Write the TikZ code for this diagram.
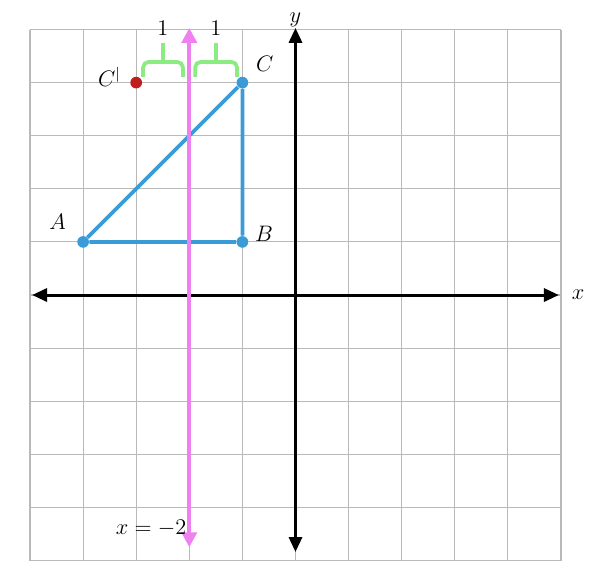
\documentclass[tikz,border=0pt]{standalone}
\usepackage{tikz}
\usetikzlibrary{positioning}
\usetikzlibrary{arrows.meta}
\definecolor{triblue}{RGB}{58,155,215}
\definecolor{mirrorpink}{RGB}{238,128,240}
\definecolor{bracegreen}{RGB}{140,235,130}
\definecolor{imagered}{RGB}{190,30,30}
\tikzstyle{gridline} = [draw=gray!55, line width=0.6pt]
\tikzstyle{axis} = [draw=black, line width=1.6pt, {Triangle[length=8pt,width=7pt]}-{Triangle[length=8pt,width=7pt]}]
\tikzstyle{mirror} = [draw=mirrorpink, line width=2pt, {Triangle[length=8pt,width=8pt]}-{Triangle[length=8pt,width=8pt]}]
\tikzstyle{side} = [draw=triblue, line width=2pt]
\tikzstyle{dot} = [circle, fill=triblue, inner sep=0pt, minimum size=0.22cm]
\tikzstyle{bracket} = [draw=bracegreen, line width=2pt, rounded corners=3pt]

\begin{document}
\begin{tikzpicture}[every node/.style={font=\large}]
  \useasboundingbox (-5.565,-5.33) rectangle (5.81,5.556);
  \draw[gridline] (-5,-5) grid (5,5);

  \coordinate (xl) at (-4.96,0);
  \coordinate (xr) at (4.96,0);
  \coordinate (yb) at (0,-4.84);
  \coordinate (yt) at (0,5.03);
  \coordinate (mb) at (-2,-4.75);
  \coordinate (mt) at (-2,5.03);

  \draw[axis] (xl) -- (xr);
  \draw[axis] (yb) -- (yt);
  \node[right=0.12cm of xr] (xlab) {$x$};
  \node[above=-0.1cm of yt] (ylab) {$y$};

  \node[dot] (A) at (-4,1) {};
  \node[dot] (B) at (-1,1) {};
  \node[dot] (C) at (-1,4) {};
  \node[dot, fill=imagered] (Cp) at (-3,4) {};
  \draw[side] (A) -- (B) -- (C) -- (A);

  \draw[mirror] (mb) -- (mt);
  \node (eq) at (-2.72,-4.39) {$x=-2$};

  \node[above left=0.02cm and 0.12cm of A] (A_lab) {$A$};
  \node[right=0.0cm of B, yshift=0.15cm] (B_lab) {$B$};
  \node[above right=0.0cm and 0.05cm of C] (C_lab) {$C$};
  \node[left=0.05cm of Cp, yshift=0.1cm] (Cp_lab) {$C^{|}$};

  \draw[bracket] (-2.87,4.11) -- (-2.87,4.39) -- (-2.5,4.39) -- (-2.12,4.39) -- (-2.12,4.11);
  \draw[bracket] (-2.5,4.39) -- (-2.5,4.75);
  \draw[bracket] (-1.89,4.11) -- (-1.89,4.39) -- (-1.5,4.39) -- (-1.10,4.39) -- (-1.10,4.11);
  \draw[bracket] (-1.5,4.39) -- (-1.5,4.75);
  \node (one_l) at (-2.5,5.02) {$1$};
  \node (one_r) at (-1.5,5.02) {$1$};
\end{tikzpicture}
\end{document}
